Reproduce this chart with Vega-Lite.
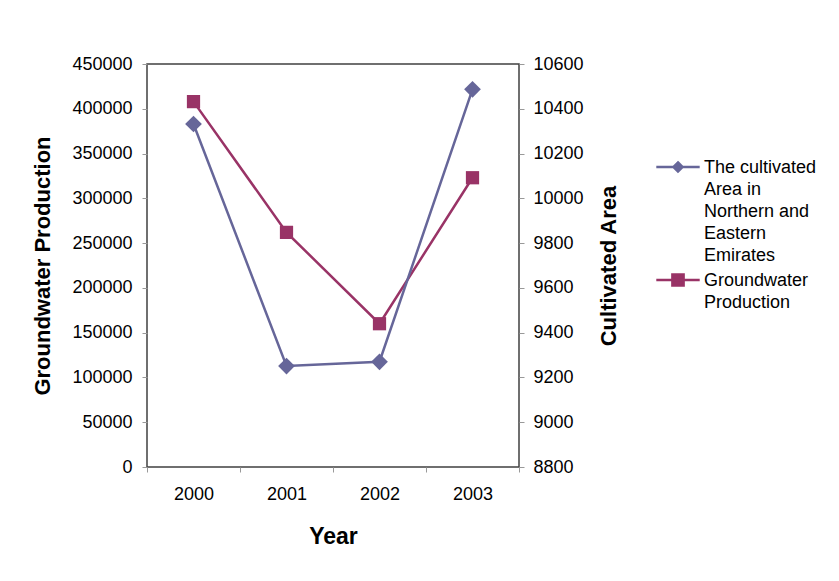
{
  "$schema": "https://vega.github.io/schema/vega-lite/v6.json",
  "width": 372,
  "height": 403,
  "autosize": {"type": "none"},
  "padding": {"left": 147, "top": 64, "right": 320, "bottom": 114},
  "background": "white",
  "data": {
    "values": [
      {"Year": "2000", "series": "Groundwater Production", "value": 408000},
      {"Year": "2001", "series": "Groundwater Production", "value": 262000},
      {"Year": "2002", "series": "Groundwater Production", "value": 160000},
      {"Year": "2003", "series": "Groundwater Production", "value": 323000},
      {"Year": "2000", "series": "The cultivated Area in Northern and Eastern Emirates", "value": 10332},
      {"Year": "2001", "series": "The cultivated Area in Northern and Eastern Emirates", "value": 9251},
      {"Year": "2002", "series": "The cultivated Area in Northern and Eastern Emirates", "value": 9270},
      {"Year": "2003", "series": "The cultivated Area in Northern and Eastern Emirates", "value": 10487}
    ]
  },
  "encoding": {
    "x": {
      "field": "Year",
      "type": "ordinal",
      "scale": {"type": "band", "paddingInner": 0, "paddingOuter": 0},
      "axis": {"title": "Year", "labelAngle": 0, "tickBand": "extent", "labelPadding": 13, "titlePadding": 22, "titleFontSize": 23}
    },
    "color": {
      "field": "series",
      "type": "nominal",
      "scale": {
        "domain": ["The cultivated Area in Northern and Eastern Emirates", "Groundwater Production"],
        "range": ["#666699", "#993366"]
      },
      "legend": {
        "orient": "none",
        "legendX": 522,
        "legendY": 94,
        "title": null,
        "padding": 0,
        "labelFont": "Liberation Sans",
        "labelFontSize": 18,
        "labelColor": "#000000",
        "labelLimit": 400,
        "labelOffset": 17,
        "labelBaseline": "top",
        "rowPadding": 4,
        "symbolSize": 196,
        "symbolStrokeWidth": 2.5,
        "symbolType": "M-3.1,0H3.1M-0.8,-0.8H0.8V0.8H-0.8Z",
        "labelExpr": "datum.label === 'Groundwater Production' ? ['Groundwater','Production'] : ['The cultivated','Area in','Northern and','Eastern','Emirates']",
        "encode": {
          "symbols": {
            "update": {
              "shape": {"signal": "datum.value === 'Groundwater Production' ? 'M-3.1,0H3.1M-0.8,-0.8H0.8V0.8H-0.8Z' : 'M-3.1,0H3.1M0,-0.65L0.65,0L0,0.65L-0.65,0Z'"},
              "fill": {"signal": "scale('color', datum.value)"},
              "stroke": {"signal": "scale('color', datum.value)"},
              "strokeWidth": {"value": 2.5},
              "opacity": {"value": 1}
            }
          },
          "labels": {
            "update": {
              "dy": {"value": -8},
              "lineHeight": {"value": 22}
            }
          }
        }
      }
    }
  },
  "layer": [
    {
      "transform": [{"filter": "datum.series === 'Groundwater Production'"}],
      "encoding": {
        "y": {
          "field": "value",
          "type": "quantitative",
          "scale": {"domain": [0, 450000], "nice": false, "zero": false},
          "axis": {
            "orient": "left",
            "title": "Groundwater Production",
            "values": [0, 50000, 100000, 150000, 200000, 250000, 300000, 350000, 400000, 450000],
            "format": "d",
            "labelPadding": 10,
            "titlePadding": 17
          }
        }
      },
      "layer": [
        {"mark": {"type": "line", "strokeWidth": 2.5}},
        {"mark": {"type": "point", "shape": "square", "filled": true, "opacity": 1, "size": 175}}
      ]
    },
    {
      "transform": [{"filter": "datum.series !== 'Groundwater Production'"}],
      "encoding": {
        "y": {
          "field": "value",
          "type": "quantitative",
          "scale": {"domain": [8800, 10600], "nice": false, "zero": false},
          "axis": {
            "orient": "right",
            "title": "Cultivated Area",
            "values": [8800, 9000, 9200, 9400, 9600, 9800, 10000, 10200, 10400, 10600],
            "format": "d",
            "labelPadding": 9,
            "titlePadding": 15,
            "titleAngle": -90,
            "titleBaseline": "top"
          }
        }
      },
      "layer": [
        {"mark": {"type": "line", "strokeWidth": 2.5}},
        {"mark": {"type": "point", "shape": "diamond", "filled": true, "opacity": 1, "size": 280}}
      ]
    }
  ],
  "resolve": {"scale": {"y": "independent"}},
  "config": {
    "view": {"stroke": "#404040", "strokeWidth": 1.5},
    "axis": {
      "grid": false,
      "domain": false,
      "labelFont": "Liberation Sans",
      "labelFontSize": 18,
      "labelColor": "#000000",
      "tickColor": "#999999",
      "tickSize": 5,
      "titleFont": "Liberation Sans",
      "titleFontSize": 22,
      "titleFontWeight": "bold",
      "titleColor": "#000000"
    }
  }
}
